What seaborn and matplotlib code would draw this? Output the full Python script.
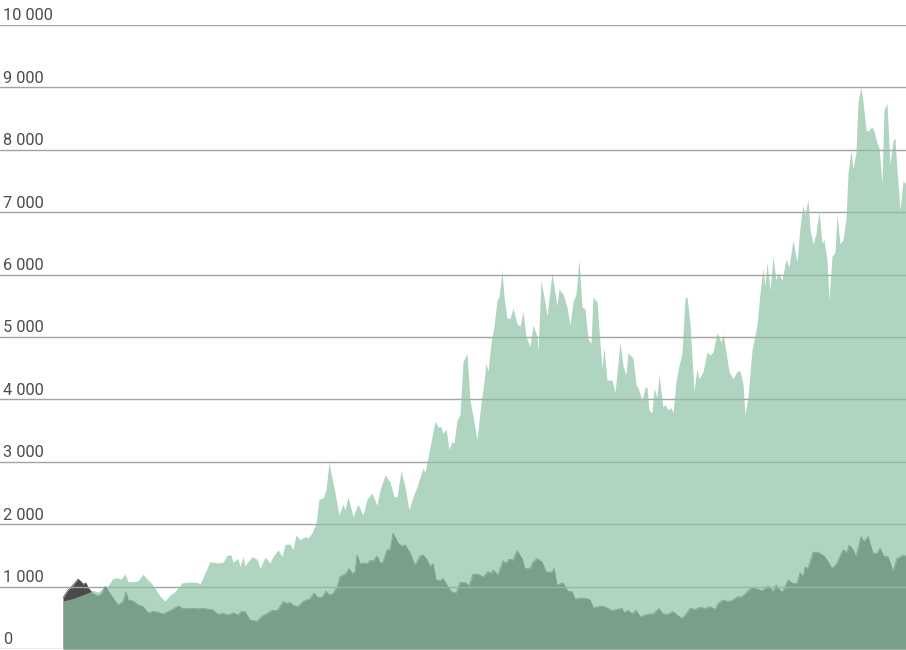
import matplotlib
matplotlib.use("Agg")
import matplotlib.pyplot as plt
import matplotlib.transforms as mtransforms
import pandas as pd
import seaborn as sns

# ---- data (day offset from first observation, value) ----
light_day = [0, 5, 10, 15, 20, 25, 30, 35, 39, 43, 47, 50, 54, 58, 62, 65, 70, 75, 80, 84, 87, 91, 94, 98,
             102, 107, 112, 116, 119, 124, 129, 134, 137, 142, 147, 151, 155, 160, 164, 168, 170, 175,
             177, 180, 182, 185, 189, 194, 197, 202, 207, 210, 215, 219, 222, 227, 230, 233, 237, 242, 245,
             249, 253, 256, 260, 263, 266, 272, 276, 280, 282, 285, 290, 295, 300, 304, 309, 314, 317, 322,
             327, 331, 334, 338, 342, 346, 350, 354,
             357, 360, 362, 365, 369, 372, 375, 378, 380, 383, 386, 389, 391, 394, 397, 400, 404, 407, 410,
             414, 418, 420, 423, 425, 428, 431, 434, 436, 439, 441, 444, 447, 450, 454, 457, 460, 463, 467,
             470, 474, 475, 478, 481, 484, 487, 489, 494, 496, 500, 504, 507, 510, 513, 516, 519, 522, 525,
             528, 530, 534,
             537, 539, 541, 544, 549, 552, 554, 557, 560, 563, 565, 570, 573, 575, 579, 582, 584, 586, 589,
             591, 594, 596, 600, 602, 605, 608, 610, 613, 616, 619, 622, 624, 627, 631, 634, 636, 640, 644,
             647, 650, 654, 658, 660, 663, 666, 670, 674, 677, 680, 682, 685, 689, 694,
             697, 700, 702, 704, 707, 710, 713, 715, 719, 723, 726, 730, 734, 737, 740, 742, 745, 747, 750,
             753, 756, 759, 761, 764, 766, 769, 772, 774, 777, 780, 783, 785, 788, 790, 793, 795, 798, 800,
             803, 805, 809, 811, 814, 816, 819, 821, 824, 827, 830, 832, 834, 837, 840, 843]
light_val = [770, 790, 810, 840, 870, 900, 940, 910, 960, 970, 1060, 1130, 1140, 1120, 1200, 1080, 1080, 1090,
             1200, 1120, 1080, 1000, 920, 830,
             770, 865, 920, 1000, 1060, 1070, 1070, 1070, 1040, 1220, 1400, 1390, 1380, 1390, 1500, 1510, 1390, 1450,
             1320, 1480, 1330, 1400, 1480, 1440, 1290, 1470, 1380, 1480, 1590, 1480, 1680, 1680, 1590, 1830, 1750,
             1800, 1780,
             1860, 2015, 2400, 2420, 2550, 2985, 2500, 2150, 2320, 2230, 2440, 2120, 2320, 2150, 2400, 2500, 2300,
             2550, 2790,
             2680, 2440, 2440, 2860, 2600, 2230, 2440, 2600,
             2750, 2900, 2825, 3070, 3400, 3650, 3560, 3560, 3450, 3530, 3200, 3320, 3300, 3670, 3750, 4605, 4730,
             3990, 3730,
             3350, 3940, 4150, 4580, 4450, 4900, 5170, 5590, 5640, 6060, 5640, 5300, 5300, 5460, 5220, 5170, 5410,
             5010, 4845,
             5190, 5010, 4765, 5910, 5640, 5340, 5750, 6020, 5500, 5770, 5690, 5480, 5190, 5560, 5690, 6245, 5480,
             5450, 4970,
             4900, 5640, 5560,
             4900, 4500, 4820, 4310, 4310, 4110, 4420, 4925, 4540, 4390, 4750, 4660, 4240, 4190, 3990, 4190, 4200,
             3830, 3780,
             4180, 4030, 4390, 3870, 3920, 3830, 3870, 3780, 4290, 4540, 4740, 5620, 5640, 5220, 4140, 4490, 4330,
             4440, 4760,
             4710, 4760, 5070, 4920, 5050, 4760, 4450, 4330, 4450, 4460, 4250, 3750, 4050, 4790, 5190,
             5700, 6100, 5810, 6200, 5750, 6290, 5910, 6030, 5910, 6250, 6120, 6555, 6200, 6760, 7115, 6960, 7205,
             6730, 6490,
             6660, 7010, 6505, 6560, 6235, 5590, 6290, 6360, 6955, 6490, 6560, 6900, 7620, 8000, 7700, 7960, 8770,
             9000, 8770,
             8320, 8300, 8370, 8300, 8110, 8040, 7460, 8640, 8745, 7760, 8150, 8185, 7670, 7035, 7500, 7450]

dark_day = [0, 5, 10, 15, 18, 20, 23, 25, 30, 35, 39, 42, 45, 50, 55, 60, 63, 65, 70, 75, 80, 85, 90, 95, 100,
            105, 110, 115, 120, 125, 130, 135, 140, 145, 150, 155, 160, 165, 170, 175,
            178, 182, 187, 194, 199, 204, 209, 214, 217, 220, 224, 227, 230, 235, 240, 244, 247, 251, 254, 259,
            263, 266, 270, 274, 277, 283, 286, 289, 292, 294, 297, 302, 304, 307, 310, 314, 317, 320, 324, 327,
            330, 335, 339, 342, 347, 352,
            357, 360, 364, 367, 370, 373, 377, 380, 384, 388, 393, 397, 402, 406, 410, 415, 420, 425, 428, 430,
            435, 440, 443, 446, 450, 454, 459, 462, 467, 470, 474, 479, 483, 489, 491, 494, 500, 505, 509, 512,
            517, 522, 527, 530, 534,
            537, 542, 549, 554, 559, 561, 565, 569, 573, 577, 582, 587, 590, 596, 600, 605, 610, 614, 619, 623,
            627, 632, 637, 642, 647, 652, 655, 660, 665, 670, 674, 679, 684, 689, 694, 699, 702, 705, 708, 710,
            713, 719, 722, 725, 730, 734, 737, 740, 742, 745, 750, 755, 761, 765, 769, 774, 777, 780, 784, 786,
            790, 793, 798, 801, 805, 810, 814, 817, 821, 825, 830, 834, 837, 840, 843]
dark_val = [820, 945, 1025, 1120, 1080, 1040, 1060, 980, 890, 850, 900, 1000, 940, 815, 705, 760, 920, 785, 770,
            705, 680, 580, 600, 590, 560,
            600, 640, 690, 645, 650, 650, 645, 650, 640, 625, 555, 570, 545, 580, 545,
            600, 595, 465, 445, 525, 570, 620, 615, 680, 760, 730, 750, 700, 680, 760, 790, 805, 900, 835, 825,
            930, 865, 890, 995, 1160, 1210, 1290, 1210, 1240, 1505, 1370, 1380, 1360, 1420, 1410, 1490, 1380,
            1395, 1590, 1590,
            1855, 1700, 1645, 1670, 1540, 1340,
            1490, 1510, 1430, 1320, 1370, 1105, 1095, 1130, 1025, 920, 895, 1065, 1065, 1015, 1200, 1200, 1150,
            1240, 1210, 1265,
            1185, 1415, 1370, 1440, 1425, 1575, 1450, 1285, 1290, 1395, 1450, 1395, 1235, 1235, 1290, 1025, 1060,
            920, 920, 800,
            815, 815, 790, 670, 670,
            690, 675, 615, 635, 650, 580, 620, 565, 620, 520, 545, 565, 560, 650, 560, 560, 600, 545, 490, 560,
            650, 635, 670, 650, 680, 635, 730, 785, 760, 785, 835, 835, 915, 990, 960, 935, 970, 1010, 960, 915,
            1025, 905, 995, 1105, 1050, 1050, 1225, 1155, 1315, 1290, 1550, 1550, 1490, 1400, 1290, 1370, 1490,
            1590, 1550, 1665,
            1590, 1480, 1800, 1720, 1800, 1535, 1535, 1615, 1480, 1480, 1240, 1455, 1470, 1505, 1490]

y_ticks = [0, 1000, 2000, 3000, 4000, 5000, 6000, 7000, 8000, 9000, 10000]
y_labels = ["0", "1 000", "2 000", "3 000", "4 000", "5 000", "6 000", "7 000", "8 000", "9 000", "10 000"]

light_df = pd.DataFrame({"day": light_day, "value": light_val})
dark_df = pd.DataFrame({"day": dark_day, "value": dark_val})

# ---- styling ----
sns.set_theme(style="white")
plt.rcParams["font.family"] = ["Roboto", "DejaVu Sans"]

LIGHT = "#8ec2a5"
DARK = "#4a4a4a"
GRID = "#a3a3a3"

W, H = 906, 650
fig = plt.figure(figsize=(W / 100, H / 100), dpi=100)
ax = fig.add_axes([0, 1 / H, 1, 624 / H])

# dark series (bottom)
ax.fill_between(dark_df["day"], 0, dark_df["value"], color=DARK, lw=0, zorder=1)
sns.lineplot(data=dark_df, x="day", y="value", ax=ax, color=DARK, lw=0.5, zorder=1)

# gridlines
for v in y_ticks:
    ax.axhline(v, color=GRID, lw=1.0, zorder=2)

# light series (translucent, on top)
ax.fill_between(light_df["day"], 0, light_df["value"], color=LIGHT, alpha=0.7, lw=0, zorder=3)

ax.set_xlim(-63, 843)
ax.set_ylim(0, 10000)
ax.set_axis_off()

base = mtransforms.blended_transform_factory(ax.transAxes, ax.transData)
trans = mtransforms.offset_copy(base, fig=fig, x=0, y=4.5, units="dots")
for v, lab in zip(y_ticks, y_labels):
    ax.text(0.003, v, lab, transform=trans, ha="left", va="baseline",
            fontsize=11.8, color="#4d4d4d", zorder=5)

fig.savefig("out.png", dpi=100)
